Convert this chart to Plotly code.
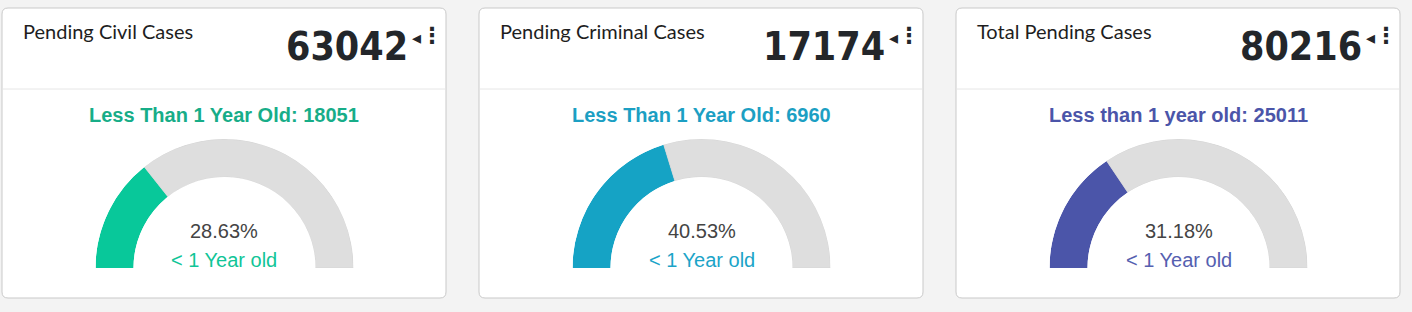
import plotly.graph_objects as go

# ---------------- data ----------------
titles = ["Pending Civil Cases", "Pending Criminal Cases", "Total Pending Cases"]
totals = [63042, 17174, 80216]
under_one_year = [18051, 6960, 25011]
sub_labels = ["Less Than 1 Year Old", "Less Than 1 Year Old", "Less than 1 year old"]
gauge_label = "< 1 Year old"

# ---------------- style ----------------
W, H = 1412, 312
gauge_colors = ["#08c89a", "#15a3c5", "#4b55a9"]
sub_colors = ["#17ad88", "#1c9fc3", "#4b55a9"]
label_colors = ["#10c597", "#1ba4c8", "#5560b0"]
track_color = "#dedede"
card_left = [2, 479, 956]
card_w = 444
card_top, card_bot = 8, 298
R_out, R_in = 129, 91
gauge_cy = 268


def px(x):
    return x / W


def py(y):
    return 1 - y / H


def rounded_rect(x0, y0, x1, y1, r):
    X0, X1 = px(x0), px(x1)
    Y0, Y1 = py(y0), py(y1)
    rx, ry = r / W, r / H
    return (f"M {X0+rx},{Y0} L {X1-rx},{Y0} Q {X1},{Y0} {X1},{Y0-ry} "
            f"L {X1},{Y1+ry} Q {X1},{Y1} {X1-rx},{Y1} L {X0+rx},{Y1} "
            f"Q {X0},{Y1} {X0},{Y1+ry} L {X0},{Y0-ry} Q {X0},{Y0} {X0+rx},{Y0} Z")


fig = go.Figure()
shapes = []
annotations = []

for i in range(3):
    left = card_left[i]
    right = left + card_w
    cx = left + card_w / 2 + 0.5
    pct = under_one_year[i] / totals[i] * 100
    val_w = pct * 1.8
    rest_w = 180 - val_w

    # card
    shapes.append(dict(type="path", xref="paper", yref="paper",
                       path=rounded_rect(left, card_top, right, card_bot, 6),
                       fillcolor="white", line=dict(color="#c9c9c9", width=1),
                       layer="below"))
    shapes.append(dict(type="line", xref="paper", yref="paper",
                       x0=px(left + 1), x1=px(right - 1), y0=py(89), y1=py(89),
                       line=dict(color="#e6e6e6", width=1), layer="below"))

    # header texts
    annotations.append(dict(x=px(left + 19), y=py(31), xref="paper", yref="paper",
                            xanchor="left", yanchor="middle", showarrow=False,
                            text=titles[i],
                            font=dict(family="Lato", size=20, color="#1e1e1e")))
    annotations.append(dict(x=px(right - 36), y=py(46), xref="paper", yref="paper",
                            xanchor="right", yanchor="middle", showarrow=False,
                            text=f"<b>{totals[i]}</b>",
                            font=dict(family="DejaVu Sans Condensed",
                                      size=39, color="#23262a")))
    annotations.append(dict(x=px(right - 30), y=py(37), xref="paper", yref="paper",
                            xanchor="center", yanchor="middle", showarrow=False,
                            text="◂", font=dict(family="DejaVu Sans", size=18, color="#23262a")))
    annotations.append(dict(x=px(right - 14), y=py(35), xref="paper", yref="paper",
                            xanchor="center", yanchor="middle", showarrow=False,
                            text="<b>⋮</b>", font=dict(family="DejaVu Sans", size=22, color="#23262a")))

    # subtitle
    annotations.append(dict(x=px(cx), y=py(115), xref="paper", yref="paper",
                            xanchor="center", yanchor="middle", showarrow=False,
                            text=f"<b>{sub_labels[i]}: {under_one_year[i]}</b>",
                            font=dict(family="Liberation Sans, Arial", size=20, color=sub_colors[i])))
    # center texts
    annotations.append(dict(x=px(cx), y=py(231), xref="paper", yref="paper",
                            xanchor="center", yanchor="middle", showarrow=False,
                            text=f"{pct:.2f}%",
                            font=dict(family="Liberation Sans, Arial", size=20, color="#444444")))
    annotations.append(dict(x=px(cx), y=py(260), xref="paper", yref="paper",
                            xanchor="center", yanchor="middle", showarrow=False,
                            text=gauge_label,
                            font=dict(family="Liberation Sans, Arial", size=20, color=label_colors[i])))

    # gauge (half-ring barpolar)
    sub = "polar" if i == 0 else f"polar{i+1}"
    fig.add_trace(go.Barpolar(
        subplot=sub,
        r=[1, 1],
        theta=[180 - val_w / 2, rest_w / 2],
        width=[val_w, rest_w],
        marker=dict(color=[gauge_colors[i], track_color],
                    line=dict(color=["rgba(0,0,0,0)", "#d2d2d2"], width=[0, 0.6])),
        hoverinfo="skip", showlegend=False,
    ))
    fig.layout[sub] = dict(
        domain=dict(x=[px(cx - R_out), px(cx + R_out)],
                    y=[py(gauge_cy), py(gauge_cy - R_out)]),
        sector=[0, 180],
        hole=R_in / R_out,
        bgcolor="rgba(0,0,0,0)",
        bargap=0,
        radialaxis=dict(range=[0, 1], visible=False, showgrid=False),
        angularaxis=dict(visible=False, showgrid=False, direction="counterclockwise",
                         rotation=0, thetaunit="degrees"),
    )

fig.update_layout(
    width=W, height=H,
    margin=dict(l=0, r=0, t=0, b=0),
    paper_bgcolor="#f3f3f3",
    plot_bgcolor="#f3f3f3",
    shapes=shapes,
    annotations=annotations,
)

fig.write_html("out.html")
